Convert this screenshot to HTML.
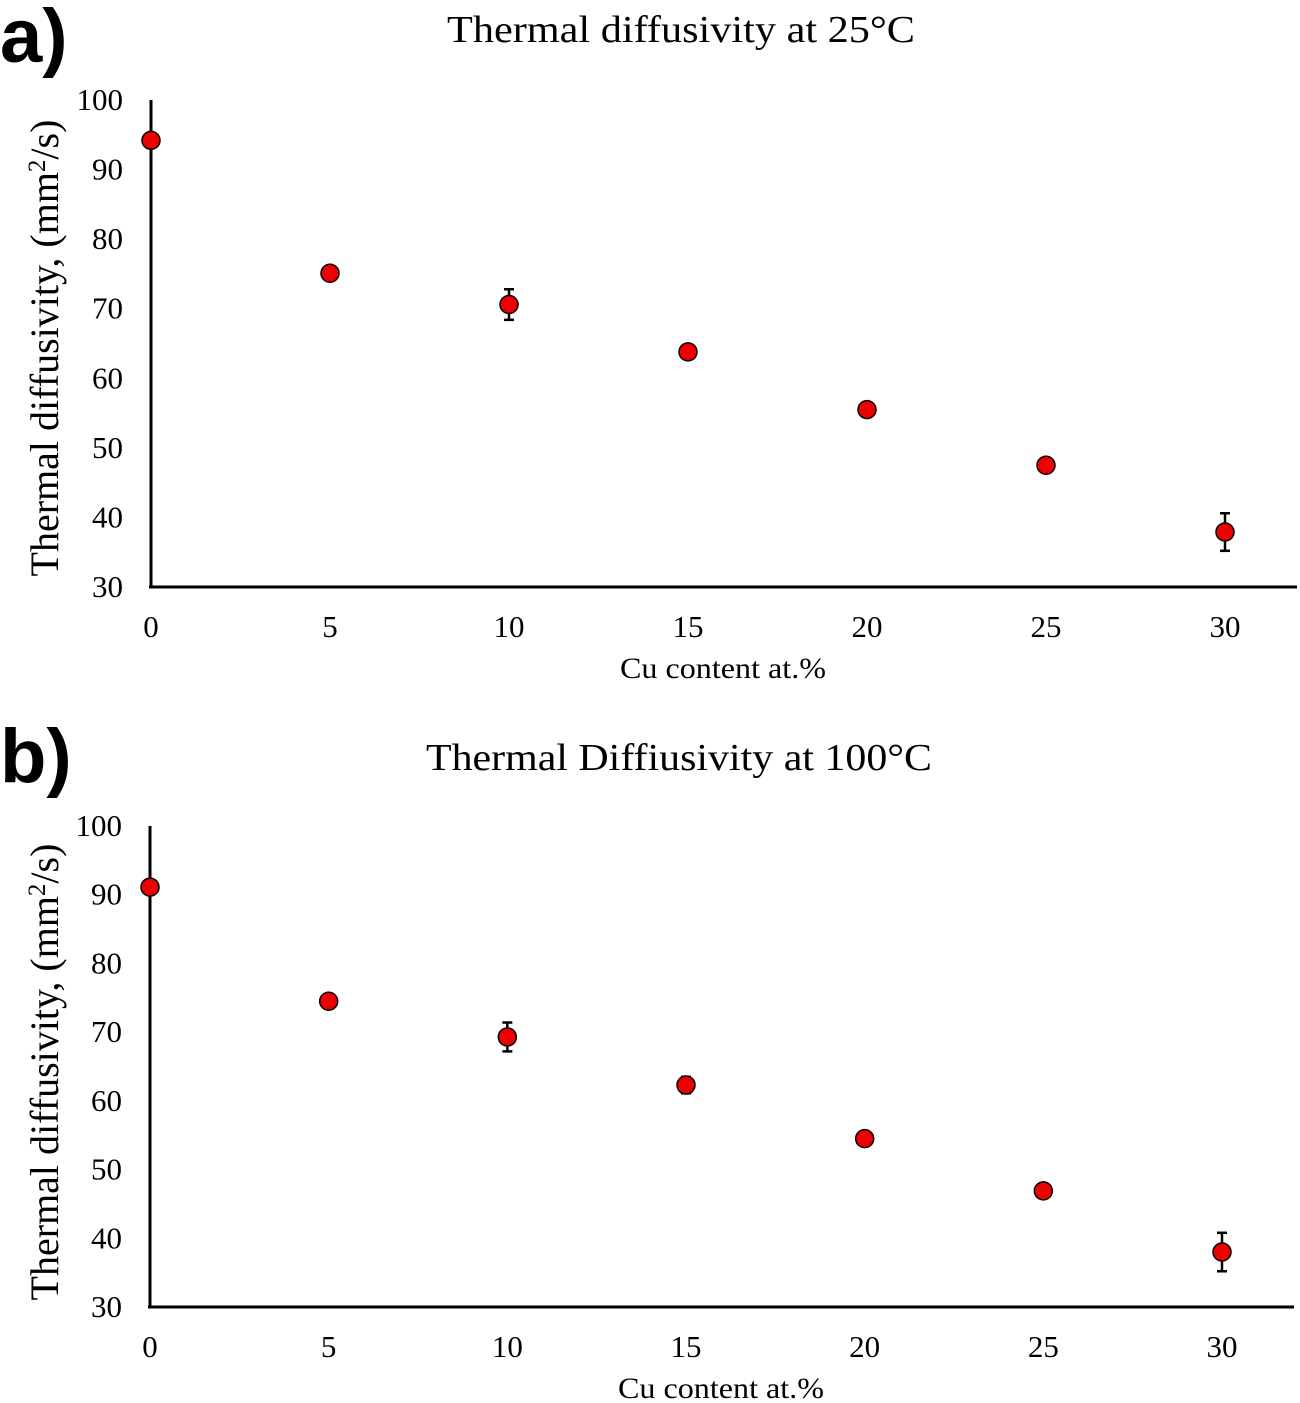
<!DOCTYPE html>
<html><head><meta charset="utf-8">
<style>
html,body{margin:0;padding:0;background:#fff;}
svg{display:block;font-family:"Liberation Serif","DejaVu Serif",serif;}
</style></head>
<body>
<svg id="svg" width="1300" height="1403" viewBox="0 0 1300 1403" xmlns="http://www.w3.org/2000/svg"></svg>
<script>
const categories = [0,5,10,15,20,25,30];
const seriesA = [94.2,75.1,70.6,63.8,55.5,47.5,37.9];
const errorsA = [0,0,2.2,0,0,0,2.7];
const seriesB = [91.1,74.5,69.3,62.3,54.5,46.9,38.0];
const errorsB = [0,0,2.1,1.2,0,0,2.8];
const yTicks = [30,40,50,60,70,80,90,100];
const xTicks = [0,5,10,15,20,25,30];

const NS='http://www.w3.org/2000/svg';
const svg=document.getElementById('svg');
function mk(tag,attrs,parent){const e=document.createElementNS(NS,tag);for(const k in attrs)e.setAttribute(k,attrs[k]);(parent||svg).appendChild(e);return e;}

function panel(p){
  const g=mk('g',{});
  
  
  const xs=v=>p.x0+(v-0)/30*(p.x1-p.x0);
  const ys=v=>p.yb-(v-30)/70*(p.yb-p.yt);
  const lab=mk('text',{x:0,y:p.labelY,'font-family':'Liberation Sans, sans-serif','font-weight':'bold','font-size':76},g);
  lab.textContent=p.id+')';
  
  
  const t=mk('text',{x:p.titleX,y:p.titleY,'text-anchor':'middle','font-size':38,textLength:p.titleLen,lengthAdjust:'spacingAndGlyphs'},g);
  t.textContent=p.title;
  
  
  const ya=mk('line',{x1:p.x0,y1:p.yt,x2:p.x0,y2:p.yb,stroke:'#000','stroke-width':3},g);
  
  
  const xa=mk('line',{x1:p.x0-2,y1:p.yb,x2:p.xEnd,y2:p.yb,stroke:'#000','stroke-width':3},g);
  
  
  yTicks.forEach(v=>{
    const e=mk('text',{x:p.x0-28,y:ys(v)+10,'text-anchor':'end','font-size':31},g);
    e.textContent=v;
    
    
  });
  xTicks.forEach(v=>{
    const e=mk('text',{x:xs(v),y:p.yb+50,'text-anchor':'middle','font-size':31},g);
    e.textContent=v;
    
    
  });
  const xt=mk('text',{x:p.xTitleX,y:p.yb+91,'text-anchor':'middle','font-size':30,textLength:206,lengthAdjust:'spacingAndGlyphs'},g);
  xt.textContent='Cu content at.%';
  
  
  const cy=p.yTitleC;
  const yt=mk('text',{x:58,y:cy,'text-anchor':'middle','font-size':40,transform:'rotate(-90 58 '+cy+')'},g);
  yt.innerHTML='Thermal diffusivity, (mm<tspan dy="-13" font-size="25">2</tspan><tspan dy="13">/s)</tspan>';
  
  
  categories.forEach((c,i)=>{
    const v=p.vals[i],er=p.errs[i];
    if(er>0){
      const eb=mk('g',{stroke:'#000','stroke-width':2.5},g);
      
      
      mk('line',{x1:xs(c),y1:ys(v+er),x2:xs(c),y2:ys(v-er)},eb);
      mk('line',{x1:xs(c)-5,y1:ys(v+er),x2:xs(c)+5,y2:ys(v+er)},eb);
      mk('line',{x1:xs(c)-5,y1:ys(v-er),x2:xs(c)+5,y2:ys(v-er)},eb);
    }
    const pt=mk('circle',{cx:xs(c),cy:ys(v),r:9,fill:'#ee0000',stroke:'#000','stroke-width':1.5},g);
    
    
  });
}
panel({id:'a',vals:seriesA,errs:errorsA,x0:151,x1:1225,xEnd:1297,yt:100,yb:587,labelY:62,title:'Thermal diffusivity at 25°C',titleLen:468,titleX:681,titleY:42,xTitleX:723,yTitleC:348});
panel({id:'b',vals:seriesB,errs:errorsB,x0:150,x1:1222,xEnd:1294,yt:826,yb:1307,labelY:782,title:'Thermal Diffiusivity at 100°C',titleLen:506,titleX:679,titleY:770,xTitleX:721,yTitleC:1072});
</script>
</body></html>
